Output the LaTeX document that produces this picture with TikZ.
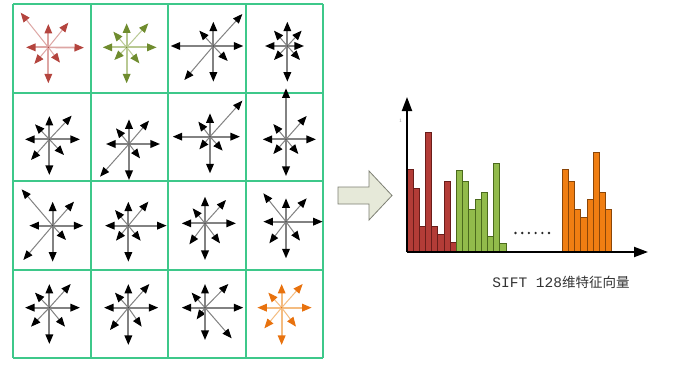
\documentclass[tikz,border=0pt]{standalone}
\usepackage{fontspec}
\newfontfamily\cjkfnt{Noto Sans CJK SC}
\newfontfamily\monofnt{Liberation Mono}
\usetikzlibrary{arrows.meta}
\definecolor{gridgreen}{HTML}{3EC88A}
\definecolor{shaftgray}{HTML}{828282}
\definecolor{redhead}{HTML}{B4443E}
\definecolor{redshaft}{HTML}{DDA6A4}
\definecolor{greenhead}{HTML}{6F8C2E}
\definecolor{greenshaft}{HTML}{B9C993}
\definecolor{orangehead}{HTML}{E8720E}
\definecolor{orangeshaft}{HTML}{F4BC80}
\definecolor{redbarfill}{HTML}{B33C37}
\definecolor{redbaredge}{HTML}{6A1D1A}
\definecolor{greenbarfill}{HTML}{92BB4B}
\definecolor{greenbaredge}{HTML}{4B6A1C}
\definecolor{orangebarfill}{HTML}{F07E12}
\definecolor{orangebaredge}{HTML}{8A4608}
\definecolor{blockfill}{HTML}{E6E9D9}
\definecolor{blockedge}{HTML}{7E8074}
\tikzset{
  garrow/.style={draw=shaftgray, -{Triangle[length=9.5pt,width=7.5pt,color=black]}},
  rarrow/.style={draw=redshaft, -{Triangle[length=9.5pt,width=7.5pt,color=redhead]}},
  narrow/.style={draw=greenshaft, -{Triangle[length=9.5pt,width=7.5pt,color=greenhead]}},
  oarrow/.style={draw=orangeshaft, -{Triangle[length=9.5pt,width=7.5pt,color=orangehead]}},
  orthoshaft/.style={line width=1.7pt},
  diagshaft/.style={line width=1.0pt},
  gridline/.style={draw=gridgreen, line width=1.2pt},
  redbar/.style={fill=redbarfill, draw=redbaredge, line width=0.6pt},
  greenbar/.style={fill=greenbarfill, draw=greenbaredge, line width=0.6pt},
  orangebar/.style={fill=orangebarfill, draw=orangebaredge, line width=0.6pt},
  axis/.style={draw=black, line width=2pt, -{Triangle[length=14pt,width=10pt]}},
}
\newcommand\gradstar[5][garrow]{%
  \foreach \p [count=\k] in {#5} {%
    \ifodd\k \draw[#1,orthoshaft] (#3,#4) -- \p;
    \else \draw[#1,diagshaft] (#3,#4) -- \p; \fi}%
  \fill[#2] (#3,#4) circle (2.2);}
\begin{document}
\begin{tikzpicture}[x=1pt,y=-1pt]
\useasboundingbox (0,0) rectangle (693,369);
\fill[white] (0,0) rectangle (693,369);
% grid
\foreach \gx in {13,91,168,246,323} \draw[gridline] (\gx,4) -- (\gx,358);
\foreach \gy in {4,93,181,270,358} \draw[gridline] (13,\gy) -- (323,\gy);
% gradient stars
\begin{scope}[x=0.33333pt,y=-0.33333pt]
\gradstar[rarrow]{redhead}{145}{142}{(252,143),(205,68),(145,72),(62,38),(78,142),(103,192),(145,250),(180,188)}
\gradstar[narrow]{greenhead}{380}{142}{(470,142),(445,70),(380,70),(340,95),(308,142),(343,180),(380,250),(418,190)}
\gradstar{black!75}{640}{138}{(730,138),(727,42),(640,65),(598,92),(512,138),(553,240),(640,245),(683,183)}
\gradstar{black!75}{862}{138}{(912,138),(905,92),(862,65),(822,92),(795,138),(822,180),(862,245),(900,180)}
\gradstar{black!75}{148}{418}{(240,418),(215,347),(148,348),(105,373),(75,418),(93,480),(148,525),(192,465)}
\gradstar{black!75}{387}{432}{(480,432),(447,362),(387,358),(348,385),(318,432),(300,530),(387,540),(420,475)}
\gradstar{black!75}{630}{410}{(720,410),(727,302),(630,340),(595,365),(518,410),(598,448),(630,520),(668,452)}
\gradstar{black!75}{858}{418}{(948,418),(920,348),(858,265),(820,372),(788,418),(820,462),(858,528),(895,462)}
\begin{scope}[shift={(0,540)}]
\gradstar{black!75}{158}{137}{(250,137),(222,65),(158,65),(65,28),(88,137),(70,240),(158,245),(198,180)}
\gradstar{black!75}{385}{137}{(500,137),(445,65),(385,65),(345,90),(315,137),(348,182),(385,245),(422,182)}
\gradstar{black!75}{615}{130}{(708,130),(678,60),(615,50),(578,85),(545,130),(568,193),(615,240),(660,190)}
\gradstar{black!75}{858}{125}{(968,125),(920,55),(858,55),(790,40),(790,125),(808,190),(858,235),(900,182)}
\gradstar{black!75}{148}{383}{(240,383),(212,312),(148,312),(105,338),(75,383),(93,440),(148,492),(195,440)}
\gradstar{black!75}{385}{383}{(475,383),(448,312),(385,312),(345,338),(312,383),(330,450),(385,495),(425,440)}
\gradstar{black!75}{615}{383}{(730,383),(685,312),(615,312),(575,338),(545,383),(590,418),(615,480),(695,475)}
\gradstar[oarrow]{orangehead}{845}{383}{(935,383),(908,312),(845,312),(805,338),(772,383),(793,445),(845,495),(888,440)}
\end{scope}
\end{scope}
% block arrow
\draw[fill=blockfill, draw=blockedge, line width=0.8pt]
  (338,187) -- (369,187) -- (369,171) -- (392,195.5) -- (369,220) -- (369,204) -- (338,204) -- cycle;
% bars
\foreach \h [count=\i from 0] in {169,188,226,132,226,234,181,242}
  \draw[redbar] (407+\i*6.15,252) rectangle (407+\i*6.15+6.15,\h);
\foreach \h [count=\i from 0] in {170,181,209,199,192,236,163,243}
  \draw[greenbar] (456.2+\i*6.2,252) rectangle (456.2+\i*6.2+6.2,\h);
\foreach \h [count=\i from 0] in {169,181,209,217,199,152,192,209}
  \draw[orangebar] (562+\i*6.2,252) rectangle (562+\i*6.2+6.2,\h);
% axes
\coordinate (origin) at (407,252);
\coordinate (ytop) at (407,97);
\coordinate (xend) at (648,252);
\draw[axis] (origin) -- (ytop);
\draw[axis] (origin) -- (xend);
\node[text=black!40, font=\fontsize{5}{5}\selectfont] (one) at (400.5,121) {1};
% dots
\foreach \k in {0,...,5} \fill[black!85] (515.5+\k*6.7,233) circle (1.3);
% label
\node[anchor=center, text=black!80, inner sep=0pt] (lbl) at (561,282)
  {{\fontsize{14.5}{15}\monofnt SIFT 128}{\fontsize{13.5}{15}\cjkfnt 维特征向量}};
\end{tikzpicture}
\end{document}
